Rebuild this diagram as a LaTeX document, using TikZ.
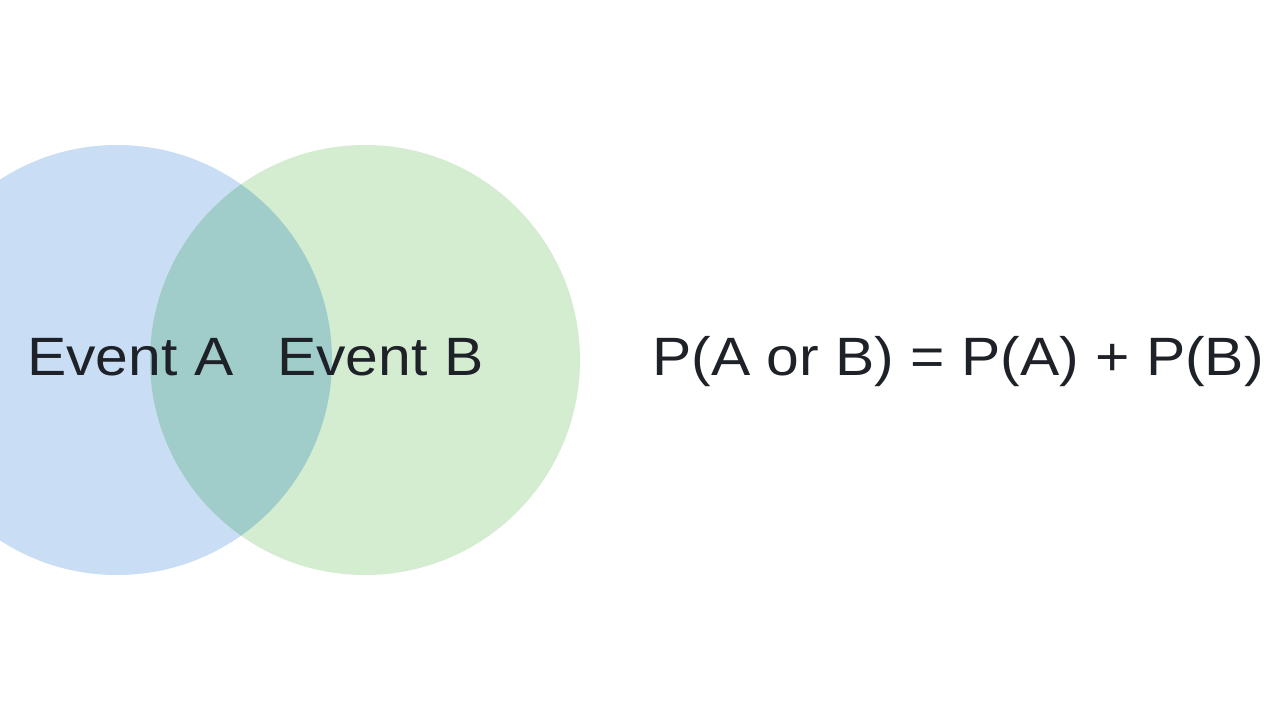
\documentclass[tikz,border=0pt]{standalone}
\usepackage{fontspec}
\setmainfont{Liberation Sans}
\definecolor{ca}{RGB}{201,221,245}
\definecolor{cb}{RGB}{212,237,208}
\definecolor{cab}{RGB}{160,204,202}
\definecolor{tx}{RGB}{30,34,40}
\tikzset{lbl/.style={text=tx,font=\fontsize{54}{60}\selectfont,anchor=base west,inner sep=0,xscale=1.09}}
\begin{document}
\begin{tikzpicture}[x=1pt,y=-1pt]
\useasboundingbox[fill=white] (0,0) rectangle (1280,720);
\fill[ca] (117,360) circle (215);
\fill[cb] (365,360) circle (215);
\begin{scope}
\clip (117,360) circle (215);
\fill[cab] (365,360) circle (215);
\end{scope}
\node[lbl] (a) at (27,375) {Event A};
\node[lbl] (b) at (277,375) {Event B};
\node[lbl] (eq) at (652,375) {P(A or B) = P(A) + P(B)};
\end{tikzpicture}
\end{document}
